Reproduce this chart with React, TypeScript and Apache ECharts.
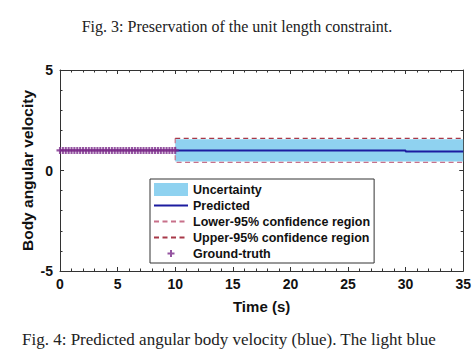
import React, { useEffect, useRef } from "react";
import * as echarts from "echarts";

const xTicks = [0, 5, 10, 15, 20, 25, 30, 35];
const yTicks = [-5, 0, 5];
const gtTimes = [0, 0.25, 0.5, 0.75, 1, 1.25, 1.5, 1.75, 2, 2.25, 2.5, 2.75, 3, 3.25, 3.5, 3.75, 4, 4.25, 4.5, 4.75, 5, 5.25, 5.5, 5.75, 6, 6.25, 6.5, 6.75, 7, 7.25, 7.5, 7.75, 8, 8.25, 8.5, 8.75, 9, 9.25, 9.5, 9.75, 10];
const gtValues = [1, 1, 1, 1, 1, 1, 1, 1, 1, 1, 1, 1, 1, 1, 1, 1, 1, 1, 1, 1, 1, 1, 1, 1, 1, 1, 1, 1, 1, 1, 1, 1, 1, 1, 1, 1, 1, 1, 1, 1, 1];
const predTimes = [10, 30, 30, 35];
const predValues = [1.0, 1.0, 0.94, 0.94];
const bandTimes = [10, 35];
const bandLow = 0.45;
const bandHigh = [1.55, 1.55];
const lowerTimes = [10, 10, 35];
const lowerValues = [1.6, 0.4, 0.4];
const upperTimes = [10, 35];
const upperValues = [1.6, 1.6];

const PLUS = "path://M3.5,0H6.5V3.5H10V6.5H6.5V10H3.5V6.5H0V3.5H3.5Z";
const PLUS_ICON = "path://M0,0M34,13M16,3H18V5.5H20.5V7.5H18V10H16V7.5H13.5V5.5H16Z";
const FONT = "'Liberation Sans', Arial, sans-serif";
const SERIF = "'Liberation Serif', 'Times New Roman', serif";

export default function App() {
  const ref = useRef<HTMLDivElement>(null);
  useEffect(() => {
    if (!ref.current) return;
    const chart = echarts.init(ref.current, undefined, { renderer: "svg" });
    const zip = (a: number[], b: number[]) => a.map((v, i) => [v, b[i]]);
    const axisCommon = {
      axisLine: { show: true, onZero: false, lineStyle: { color: "#333", width: 1 } },
      axisTick: { show: true, inside: true, length: 4, lineStyle: { color: "#333" } },
      minorTick: { show: true, splitNumber: 5, length: 2.5, lineStyle: { color: "#333" } },
      splitLine: { show: false },
    };
    const hideSym = { opacity: 0 };
    chart.setOption({
      animation: false,
      backgroundColor: "#fff",
      grid: { left: 60, right: 9, top: 70, bottom: 83 },
      graphic: [
        {
          type: "text",
          left: "center",
          top: 18,
          style: { text: "Fig. 3: Preservation of the unit length constraint.", font: `16px ${SERIF}`, fill: "#222" },
        },
        {
          type: "text",
          left: 22,
          top: 331,
          style: { text: "Fig. 4: Predicted angular body velocity (blue). The light blue", font: `17px ${SERIF}`, fill: "#222" },
        },
      ],
      xAxis: [
        {
          type: "value",
          min: 0,
          max: 35,
          interval: 5,
          ...axisCommon,
          axisLabel: {
            show: true,
            color: "#111",
            fontWeight: "bold",
            fontSize: 14,
            fontFamily: FONT,
            margin: 6,
            formatter: (v: number) => (xTicks.includes(v) ? String(v) : ""),
          },
          name: "Time (s)",
          nameLocation: "middle",
          nameGap: 28,
          nameMoveOverlap: false,
          nameTextStyle: { color: "#111", fontWeight: "bold", fontSize: 15, fontFamily: FONT },
        },
        {
          type: "value",
          position: "top",
          min: 0,
          max: 35,
          interval: 5,
          ...axisCommon,
          axisLabel: { show: false },
        },
      ],
      yAxis: [
        {
          type: "value",
          min: -5,
          max: 5,
          interval: 5,
          ...axisCommon,
          axisLabel: {
            show: true,
            color: "#111",
            fontWeight: "bold",
            fontSize: 14,
            fontFamily: FONT,
            margin: 7,
            formatter: (v: number) => (yTicks.includes(v) ? String(v) : ""),
          },
          name: "Body angular velocity",
          nameLocation: "middle",
          nameGap: 25,
          nameMoveOverlap: false,
          nameTextStyle: { color: "#111", fontWeight: "bold", fontSize: 15.5, fontFamily: FONT },
        },
        {
          type: "value",
          position: "right",
          min: -5,
          max: 5,
          interval: 5,
          ...axisCommon,
          axisLabel: { show: false },
        },
      ],
      legend: {
        orient: "vertical",
        left: 150,
        top: 179,
        padding: [4, 4, 3, 3],
        itemGap: 3,
        itemWidth: 34,
        itemHeight: 13,
        borderColor: "#333",
        borderWidth: 1,
        borderRadius: 0,
        backgroundColor: "#fff",
        textStyle: { color: "#111", fontWeight: "bold", fontSize: 12.5, fontFamily: FONT },
        data: [
          { name: "Uncertainty", icon: "rect" },
          { name: "Predicted", itemStyle: hideSym },
          { name: "Lower-95% confidence region", itemStyle: hideSym },
          { name: "Upper-95% confidence region", itemStyle: hideSym },
          { name: "Ground-truth", icon: PLUS_ICON },
        ],
      },
      series: [
        {
          name: "Uncertainty",
          type: "line",
          data: zip(bandTimes, bandHigh),
          symbol: "none",
          color: "#8fd2f0",
          itemStyle: { color: "#8fd2f0" },
          lineStyle: { width: 0, color: "#8fd2f0" },
          areaStyle: { color: "#8fd2f0", opacity: 1, origin: bandLow },
          z: 1,
        },
        {
          name: "Lower-95% confidence region",
          type: "line",
          data: zip(lowerTimes, lowerValues),
          symbol: "none",
          color: "#c8708a",
          lineStyle: { color: "#c8708a", width: 1.2, type: [5, 3.5] },
          z: 3,
        },
        {
          name: "Upper-95% confidence region",
          type: "line",
          data: zip(upperTimes, upperValues),
          symbol: "none",
          color: "#a83848",
          lineStyle: { color: "#a83848", width: 1.2, type: [5, 3.5] },
          z: 3,
        },
        {
          name: "Predicted",
          type: "line",
          data: zip(predTimes, predValues),
          symbol: "none",
          color: "#1c1ca0",
          lineStyle: { color: "#1c1ca0", width: 2 },
          z: 4,
        },
        {
          name: "Ground-truth",
          type: "scatter",
          data: zip(gtTimes, gtValues),
          symbol: PLUS,
          symbolSize: 7,
          color: "#7a2a8a",
          itemStyle: { color: "#7a2a8a" },
          z: 5,
        },
      ],
    });
    return () => chart.dispose();
  }, []);
  return (
    <div
      ref={ref}
      style={{ position: "fixed", left: 0, top: 0, width: 474, height: 354, background: "#fff" }}
    />
  );
}
